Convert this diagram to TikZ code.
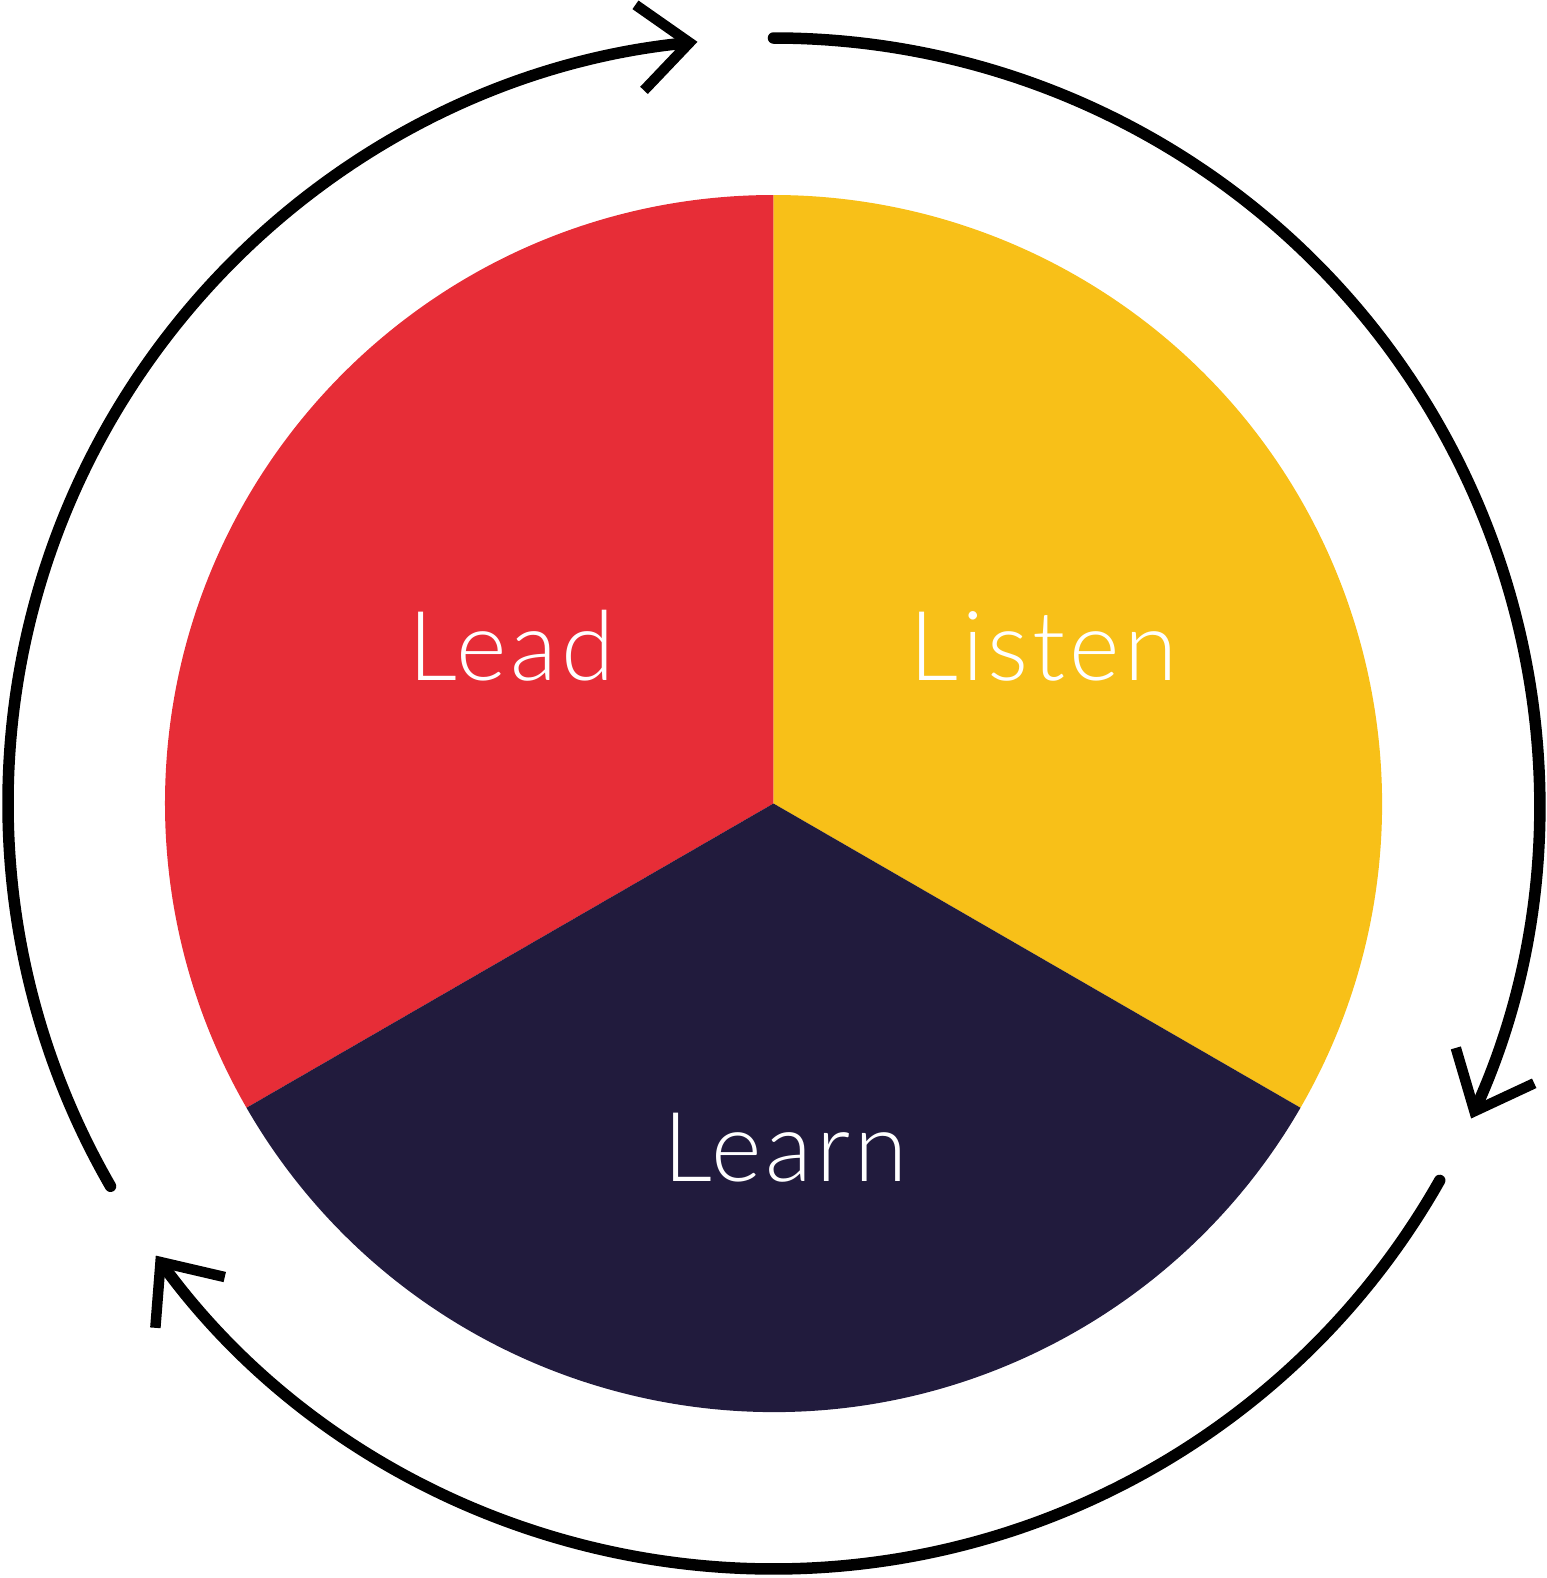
\documentclass[tikz,border=0pt]{standalone}
\usepackage{fontspec}
\usetikzlibrary{arrows.meta}
\newfontfamily\labelfont{Lato Light}[LetterSpace=4]
\definecolor{leadred}{HTML}{E72D37}
\definecolor{listenyellow}{HTML}{F8C018}
\definecolor{learnnavy}{HTML}{211B3D}

\begin{document}
\begin{tikzpicture}[>={Straight Barb[length=0.5cm, width=0.86cm, line width=0.105cm]},
        slice/.style = {draw=none},
        arcline/.style = {line width=0.115cm, line cap=round},
        word/.style = {anchor=base, text=white, font=\labelfont\fontsize{27.5}{32}\selectfont},
        ]
        \useasboundingbox (-7.735,-7.745) rectangle (7.735,8.035);
        % pie
        \foreach \col/\a in {listenyellow/-30, leadred/90, learnnavy/210}
            \fill [slice, \col] (0,0) -- (\a:6.085) arc [start angle=\a, end angle=\a+120, radius=6.085] -- cycle;
        % cycle arrows
        \foreach \s in {90, -29.5, 210}
            \draw [arcline, ->] (\s:7.655) arc [start angle=\s, end angle=\s-114.3, radius=7.655];
        
        \node [word] (lead) at (-2.62,1.235) {Lead};
        \node [word] (listen) at (2.7,1.235) {Listen};
        \node [word] (learn) at (0.12,-3.775) {Learn};
    \end{tikzpicture}
\end{document}
